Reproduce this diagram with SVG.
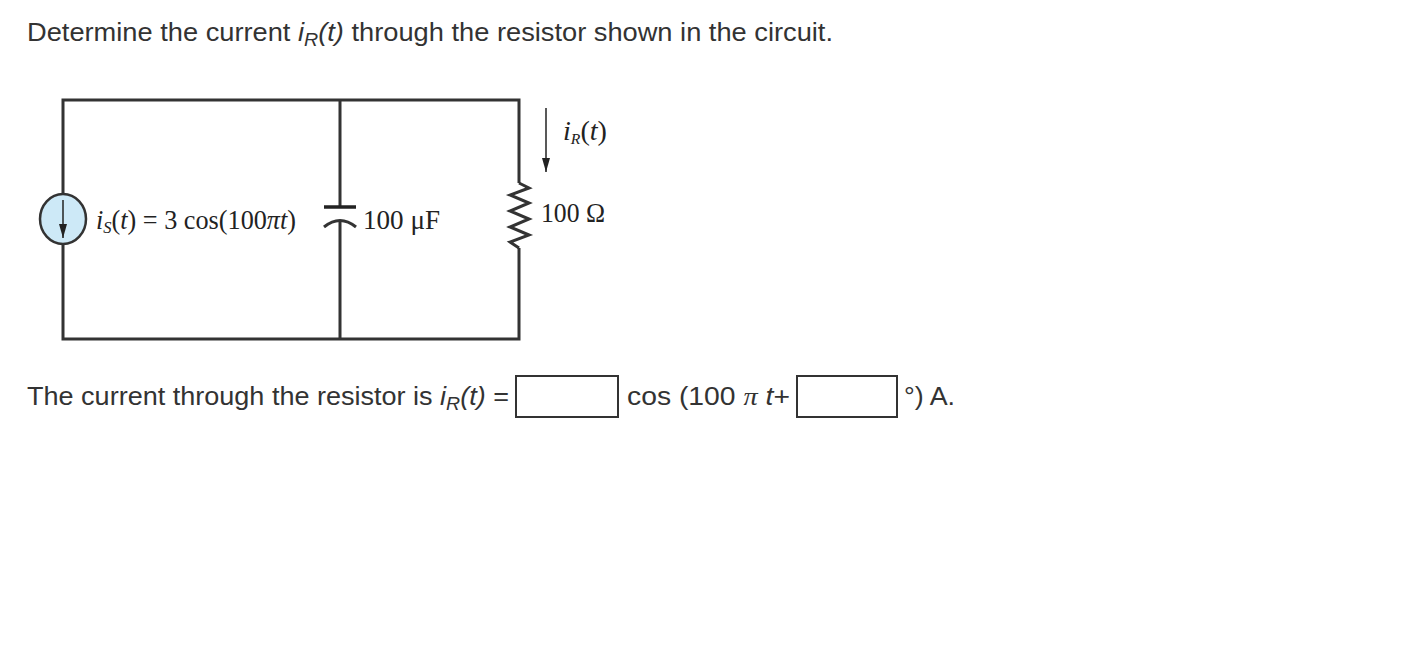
<svg xmlns="http://www.w3.org/2000/svg" width="1416" height="672" viewBox="0 0 1416 672">
<style>
.w{stroke:#333;stroke-width:3;fill:none}
.t{font-family:"Liberation Sans",sans-serif;font-size:25px;fill:#333}
.s{font-family:"Liberation Serif",serif;font-size:27px;fill:#222}
.b{fill:#fff;stroke:#333;stroke-width:2}
</style>
<defs><marker id="ah" markerWidth="14" markerHeight="8" refX="14" refY="4" orient="auto" markerUnits="userSpaceOnUse"><path d="M0,0 L14,4 L0,8 Z" fill="#222"/></marker></defs>
<rect width="1416" height="672" fill="#fff"/>
<text class="t" x="27" y="41" textLength="806" lengthAdjust="spacingAndGlyphs">Determine the current <tspan font-style="italic">i</tspan><tspan font-style="italic" font-size="18" dy="5">R</tspan><tspan font-style="italic" dy="-5">(t)</tspan> through the resistor shown in the circuit.</text>
<g id="wires" class="w">
<path d="M63,195 V100 H519 V183"/>
<path d="M63,243 V339 H519 V248"/>
<path d="M340,100 V207 M340,222 V339"/>
</g>
<g id="source"><ellipse cx="63" cy="219" rx="23" ry="25" fill="#cde9f7" stroke="#333" stroke-width="2.5"/>
<line x1="63" y1="200" x2="63" y2="238" stroke="#222" stroke-width="1.5" marker-end="url(#ah)"/>
<text class="s" x="96" y="229" textLength="200" lengthAdjust="spacingAndGlyphs"><tspan font-style="italic">i</tspan><tspan font-style="italic" font-size="17" dy="4">S</tspan><tspan dy="-4">(</tspan><tspan font-style="italic">t</tspan>) = 3 cos(100<tspan font-style="italic">πt</tspan>)</text></g>
<g id="capacitor"><line x1="324" y1="207" x2="356" y2="207" stroke="#222" stroke-width="3.5"/>
<path d="M324,227 Q340,214 356,227" class="w"/>
<text class="s" x="363" y="229" textLength="77" lengthAdjust="spacingAndGlyphs">100 μF</text></g>
<g id="resistor"><path class="w" stroke-width="2.5" d="M519,183 L529,188 L510,195 L529,203 L510,211 L529,219 L510,227 L529,235 L510,242 L519,248"/>
<text class="s" x="541" y="222" textLength="64" lengthAdjust="spacingAndGlyphs">100 Ω</text></g>
<g id="connectors"><line x1="546" y1="108" x2="546" y2="172" stroke="#222" stroke-width="1.5" marker-end="url(#ah)"/>
<text class="s" x="563" y="140" font-size="22" font-style="italic" textLength="44" lengthAdjust="spacingAndGlyphs">i<tspan font-size="15" dy="4">R</tspan><tspan dy="-4" font-style="normal">(</tspan>t<tspan font-style="normal">)</tspan></text></g>
<text class="t" x="27" y="405" textLength="482" lengthAdjust="spacingAndGlyphs">The current through the resistor is <tspan font-style="italic">i</tspan><tspan font-style="italic" font-size="18" dy="5">R</tspan><tspan font-style="italic" dy="-5">(t)</tspan> =</text>
<rect class="b" x="516" y="376" width="102" height="41"/>
<text class="t" x="627" y="405" textLength="163" lengthAdjust="spacingAndGlyphs">cos (100 <tspan font-family="Liberation Serif" font-style="italic">π</tspan> <tspan font-style="italic">t</tspan>+</text>
<rect class="b" x="797" y="376" width="100" height="41"/>
<text class="t" x="904" y="405" textLength="51" lengthAdjust="spacingAndGlyphs">°) A.</text>
</svg>
